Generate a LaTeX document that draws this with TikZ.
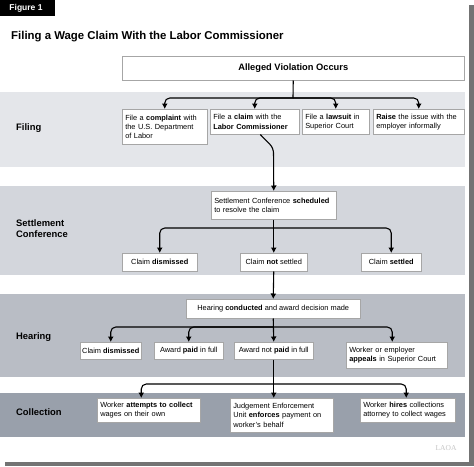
\documentclass[tikz,border=0pt]{standalone}
\usepackage{fontspec}
\setmainfont{Liberation Sans}
\newfontfamily\logofont{Liberation Serif}
\usetikzlibrary{arrows.meta,positioning}
\definecolor{filingbg}{HTML}{E4E6EA}
\definecolor{settlebg}{HTML}{D3D6DC}
\definecolor{hearbg}{HTML}{B9BDC5}
\definecolor{collectbg}{HTML}{99A0AB}
\tikzset{
    figtag/.style={text=white,font=\bfseries\fontsize{8.5}{10}\selectfont,inner sep=0pt},
    titletext/.style={anchor=west,font=\bfseries\fontsize{11.4}{13}\selectfont,inner sep=0pt},
    phaselabel/.style={anchor=west,align=left,font=\bfseries\fontsize{9.4}{11}\selectfont,inner sep=0pt},
    topbox/.style={draw=gray!70,fill=white,line width=0.5pt,anchor=north west,font=\bfseries\fontsize{9.3}{11}\selectfont},
    stepbox/.style={draw=gray!70,fill=white,line width=0.5pt,anchor=north west,align=left,
        font=\fontsize{7.4}{9.3}\selectfont,inner xsep=3pt,inner ysep=2pt},
    smallbox/.style={draw=gray!70,fill=white,line width=0.5pt,anchor=north west,align=center,
        font=\fontsize{7.4}{9.3}\selectfont,inner xsep=1.5pt,inner ysep=1pt},
    linkline/.style={draw,line width=1.1pt},
    arrowline/.style={draw,->,>={Latex[length=5.5pt,width=6pt]},line width=1.1pt,rounded corners=5pt},
    logo/.style={text=gray!45,font=\logofont\fontsize{7.5}{9}\selectfont,inner sep=0pt},
}

\begin{document}
\begin{tikzpicture}[x=1pt,y=-1pt]
    \useasboundingbox (0,0) rectangle (474,466);
    % frame and shadow
    \fill[black!55] (5,5) rectangle (474,466);
    \fill[white] (0,0) rectangle (469,462);
    \fill[black] (0,0) rectangle (55,16);
    \node[figtag] (fig) at (26,8) {Figure 1};
    \node[titletext] (title) at (11,37) {Filing a Wage Claim With the Labor Commissioner};
    % bands
    \fill[filingbg] (0,92) rectangle (465,167);
    \fill[settlebg] (0,186) rectangle (465,275);
    \fill[hearbg] (0,294) rectangle (465,377);
    \fill[collectbg] (0,393) rectangle (465,437);
    \node[phaselabel] (lfiling) at (16,128) {Filing};
    \node[phaselabel] (lsettle) at (16,229) {Settlement\\Conference};
    \node[phaselabel] (lhearing) at (16,337) {Hearing};
    \node[phaselabel] (lcollect) at (16,412) {Collection};
    % start
    \node[topbox,minimum width=342pt,minimum height=24pt] (violation) at (122,56) {Alleged Violation Occurs};
    % filing
    \node[stepbox,text width=79pt,minimum height=35pt] (complaint) at (122,109)
        {File a \textbf{complaint} with\\the U.S. Department\\of Labor};
    \node[stepbox,text width=83pt,minimum height=25pt] (claim) at (210,109)
        {File a \textbf{claim} with the\\\textbf{Labor Commissioner}};
    \node[stepbox,text width=61pt,minimum height=25pt] (lawsuit) at (302,109)
        {File a \textbf{lawsuit} in\\Superior Court};
    \node[stepbox,text width=85pt,minimum height=25pt] (raise) at (373,109)
        {\textbf{Raise} the issue with the\\employer informally};
    % settlement conference
    \node[stepbox,text width=119pt,minimum height=28pt] (settle) at (211,191)
        {Settlement Conference \textbf{scheduled}\\to resolve the claim};
    \node[smallbox,minimum width=75pt,minimum height=18pt] (sdismissed) at (122,253) {Claim \textbf{dismissed}};
    \node[smallbox,minimum width=67pt,minimum height=18pt] (notsettled) at (240,253) {Claim \textbf{not} settled};
    \node[smallbox,minimum width=60pt,minimum height=18pt] (settled) at (361,253) {Claim \textbf{settled}};
    % hearing
    \node[smallbox,minimum width=174pt,minimum height=19pt] (hearing) at (186,299)
        {Hearing \textbf{conducted} and award decision made};
    \node[smallbox,minimum width=61pt,minimum height=17pt] (hdismissed) at (80,342) {Claim \textbf{dismissed}};
    \node[smallbox,minimum width=69pt,minimum height=17pt] (paid) at (154,342) {Award \textbf{paid} in full};
    \node[smallbox,minimum width=79pt,minimum height=17pt] (notpaid) at (234,342) {Award not \textbf{paid} in full};
    \node[stepbox,text width=95pt,minimum height=26pt] (appeals) at (346,342)
        {Worker or employer\\\textbf{appeals} in Superior Court};
    % collection
    \node[stepbox,text width=97pt,minimum height=24pt] (attempts) at (97,398)
        {Worker \textbf{attempts to collect}\\wages on their own};
    \node[stepbox,text width=97pt,minimum height=34pt] (enforce) at (230,398)
        {Judgement Enforcement\\Unit \textbf{enforces} payment on\\worker's behalf};
    \node[stepbox,text width=89pt,minimum height=24pt] (hires) at (360,398)
        {Worker \textbf{hires} collections\\attorney to collect wages};
    % connectors
    \coordinate (split1) at (293,98);
    \path[linkline] (violation.south) -- (split1);
    \foreach \n in {complaint,claim,lawsuit,raise}
        \path[arrowline] (split1) -| (\n.north);
    \coordinate (bend1) at (273.5,148);
    \path[arrowline] ([xshift=5.5pt]claim.south) -- (bend1) -- (settle.north);
    \coordinate (split2) at (273.5,228);
    \path[arrowline] (settle.south) -- (notsettled.north);
    \path[arrowline] (split2) -| (sdismissed.north);
    \path[arrowline] (split2) -| (settled.north);
    \coordinate (split3) at (273.5,327);
    \path[arrowline] (notsettled.south) -- (hearing.north);
    \path[arrowline] (hearing.south) -- (notpaid.north);
    \path[arrowline] (split3) -| (hdismissed.north);
    \path[arrowline] (split3) -| (paid.north);
    \path[arrowline] (split3) -| ([xshift=-4.5pt]appeals.north);
    \coordinate (split4) at (273.5,384);
    \path[arrowline] (notpaid.south) -- (notpaid.south |- enforce.north);
    \path[arrowline] (split4) -| ([xshift=-7.5pt]attempts.north);
    \path[arrowline] (split4) -| ([xshift=-1.5pt]hires.north);
    \node[logo] (laoa) at (446,448) {LAOA};
\end{tikzpicture}
\end{document}
